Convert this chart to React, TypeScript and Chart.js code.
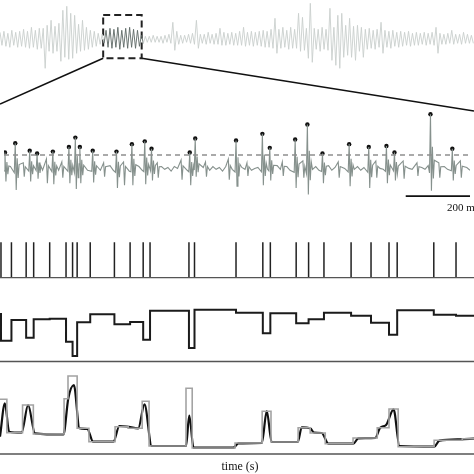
import React, { useEffect, useRef } from "react";
import { Chart, registerables } from "chart.js";

Chart.register(...registerables);

const W = 474;

// ---------- Overview recording (seconds) ----------
const overviewSpan = 18.1;
const overviewBin = 0.15;
const overviewUp = [
  7, 8, 6, 9, 7, 8, 10, 8, 12, 9,
  11, 11, 14, 19, 13, 16, 29, 33, 26, 24,
  15, 19, 12, 9, 8, 6, 5, 9, 11, 10,
  12, 9, 11, 12, 10, 9, 4, 3, 3, 4,
  3, 3, 4, 5, 17, 8, 4, 4, 5, 6,
  19, 5, 5, 7, 5, 6, 11, 7, 6, 7,
  6, 8, 12, 7, 8, 7, 8, 9, 8, 10,
  21, 10, 12, 9, 12, 10, 26, 22, 11, 36,
  11, 10, 12, 10, 31, 12, 24, 26, 14, 21,
  13, 14, 12, 10, 11, 9, 10, 17, 9, 8,
  9, 7, 8, 7, 8, 6, 7, 6, 7, 6,
  7, 12, 6, 5, 6, 9, 5, 5, 7, 5,
  4,
];
const overviewDown = [
  6, 7, 8, 6, 8, 7, 8, 9, 8, 10,
  9, 29, 12, 14, 12, 22, 18, 20, 19, 14,
  12, 11, 10, 8, 7, 5, 4, 8, 9, 8,
  10, 8, 9, 8, 9, 7, 4, 3, 3, 3,
  3, 4, 3, 4, 11, 5, 4, 3, 4, 5,
  9, 4, 5, 4, 5, 5, 6, 6, 5, 6,
  6, 6, 7, 6, 7, 6, 7, 8, 8, 9,
  14, 9, 8, 10, 9, 9, 12, 11, 19, 23,
  10, 12, 10, 11, 21, 26, 29, 18, 16, 18,
  21, 12, 18, 10, 9, 10, 8, 14, 8, 9,
  7, 8, 7, 6, 7, 6, 6, 5, 6, 5,
  6, 14, 5, 5, 4, 5, 4, 5, 4, 4,
  4,
];
const zoomWindow = [3.94, 5.41];
const zoomBoxRange = [-19, 24.3];
const connectorEnds = [-64.7, -71.7];

// ---------- Zoomed trace (ms) ----------
const traceSpan = 1450;
const spikeTimes = [3, 35, 80, 103, 152, 202, 222, 236, 276, 350, 398, 438, 459, 578, 595, 722, 804, 827, 906, 944, 991, 1074, 1135, 1190, 1215, 1327, 1395];
const spikePeaks = [17, 27, 19, 16, 18, 23, 33, 23, 19, 18, 26, 29, 21, 17, 32, 30, 37, 22, 31, 47, 16, 26, 23, 24, 17, 58, 21];
const spikeTroughs = [14, 23, 14, 11, 17, 16, 22, 16, 15, 21, 18, 17, 13, 18, 9, 19, 18, 13, 21, 28, 16, 19, 21, 16, 13, 24, 13];
const threshold = 14.3;
const subTimes = [60, 132, 180, 310, 372, 477, 551, 627, 698, 756, 866, 930, 1040, 1157, 1242, 1285, 1353, 1420];
const subUp = [6, 10, 7, 6, 7, 6, 9, 7, 10, 6, 7, 8, 7, 8, 8, 6, 6, 8];
const subDown = [9, 16, 10, 9, 18, 10, 12, 9, 12, 8, 8, 10, 10, 10, 11, 8, 10, 10];
const noiseStep = 10;
const noise = [
  1, -2, 2, -1, 3, -2, 0, 2, -3, 1,
  -1, 2, -2, 1, 3, -1, 0, -2, 2, -1,
  2, -3, 1, -1, 2, 0, -2, 3, -1, 1,
  -2, 2, -1, 3, -2, 1, 0, -1, 2, -3,
  1, -1, 2, -2, 0, 3, -1, 1, -2, 2,
  -1, 1, -3, 2, 0, -1, 2, -2, 1, -1,
  3, -2, 1, 0, -2, 2, -1, 1, -3, 2,
  0, -1, 2, -2, 1, -1, 3, -2, 0, 1,
  -2, 2, -1, 1, -2, 3, -1, 0, 2, -2,
  1, -1, 2, -3, 1, 0, -1, 2, -2, 1,
  -1, 3, -2, 1, -1, 2, 0, -2, 1, -1,
  2, -2, 1, -1, 3, -2, 1, 0, -1, 2,
  -3, 1, -1, 2, -2, 1, 0, -1, 2, -2,
  1, -1, 3, -2, 0, 1, -2, 2, -1, 1,
  -2, 2, -1, 0, 1, -2, 3, -1, 1, -2,
  1,
];
const scaleBarMs = [1250, 1450];
const scaleBarLevel = -29.7;

// ---------- Interval level (step) ----------
const isiStarts = [0, 3, 35, 80, 103, 152, 202, 222, 236, 276, 350, 398, 438, 459, 578, 595, 722, 804, 827, 906, 944, 991, 1074, 1135, 1190, 1215, 1327, 1395];
const isiLevels = [47.3, 20.6, 41.3, 23.6, 42, 42.6, 19.6, 5.3, 39, 47, 37, 39.3, 21.6, 50.6, 13.3, 51.6, 48.6, 28, 48, 38, 42, 48.6, 45.6, 38.6, 26.6, 51, 46.6, 45.6];

// ---------- Rate (bottom) ----------
const rateStarts = [0, 21, 69, 102, 196, 208, 236, 272, 352, 392, 435, 456, 569, 588, 719, 802, 829, 912, 949, 995, 1080, 1154, 1190, 1218, 1328, 1414];
const rateLevels = [54.7, 21.3, 49, 20, 55.3, 78, 25.7, 12.3, 27.3, 25.7, 52.7, 8, 65.7, 6, 11, 42.7, 12, 26.3, 21, 10.3, 16, 26.3, 45, 7.3, 13.7, 15.3];
const smoothTimes = [0, 15, 28, 66, 86, 107, 194, 209, 226, 243, 267, 285, 347, 365, 388, 423, 442, 464, 569, 579, 592, 714, 729, 801, 816, 831, 911, 923, 949, 961, 984, 1005, 1081, 1096, 1148, 1163, 1181, 1204, 1222, 1328, 1344, 1408, 1450];
const smoothRates = [17.3, 50.7, 22.3, 21.3, 49, 20.7, 19.5, 55.7, 69, 25.7, 25, 12.3, 12.3, 28, 27.5, 25.7, 49.7, 8, 8, 38.3, 6.3, 6.3, 10.7, 11, 43, 12, 12, 26.7, 25.7, 21.3, 21, 10.3, 10.3, 15.7, 16, 26.3, 29, 44.7, 8, 7.3, 13.3, 14.7, 15.3];
const rateFrameTop = 92.5;

type Pt = { x: number; y: number | null };

function baseOptions(xMin: number, xMax: number, yMin: number, yMax: number): any {
  return {
    responsive: false,
    maintainAspectRatio: false,
    animation: false,
    devicePixelRatio: 1,
    events: [],
    layout: { padding: 0 },
    plugins: { legend: { display: false }, tooltip: { enabled: false }, title: { display: false } },
    elements: { point: { radius: 0 }, line: { tension: 0 } },
    scales: {
      x: { type: "linear", min: xMin, max: xMax, display: false },
      y: { type: "linear", min: yMin, max: yMax, display: false },
    },
  };
}

function overviewConfig(): any {
  const pts: Pt[] = [];
  overviewUp.forEach((u, i) => {
    const t = i * overviewBin;
    pts.push({ x: t, y: u });
    pts.push({ x: t + overviewBin / 2, y: -overviewDown[i] });
  });
  const [a, b] = zoomWindow;
  const [lo, hi] = zoomBoxRange;
  const light = "#c9cfcd";
  const dark = "#5d6965";
  return {
    type: "line",
    data: {
      datasets: [
        {
          data: pts,
          borderWidth: 0.9,
          borderColor: light,
          segment: {
            borderColor: (c: any) => (c.p0.parsed.x >= a && c.p0.parsed.x < b ? dark : light),
          },
        },
        {
          data: [{ x: a, y: hi }, { x: b, y: hi }, { x: b, y: lo }, { x: a, y: lo }, { x: a, y: hi }],
          borderColor: "#222",
          borderWidth: 2,
          borderDash: [7, 4],
        },
        { data: [{ x: a, y: lo }, { x: 0, y: connectorEnds[0] }], borderColor: "#111", borderWidth: 1.6 },
        { data: [{ x: b, y: lo }, { x: overviewSpan, y: connectorEnds[1] }], borderColor: "#111", borderWidth: 1.6 },
      ],
    },
    options: baseOptions(0, overviewSpan, -75.7, 39.3),
  };
}

function traceConfig(): any {
  const pts: Pt[] = [];
  const windows: number[][] = [];
  spikeTimes.forEach((t, i) => {
    const P = spikePeaks[i];
    const T = spikeTroughs[i];
    windows.push([t - 6, t + 15]);
    const shape = [[-3, -0.2 * T], [0, P], [3, -T], [6, 0.4 * P], [9, -0.45 * T], [12, 0.15 * P]];
    shape.forEach(([dx, v]) => pts.push({ x: t + dx, y: v }));
  });
  subTimes.forEach((t, i) => {
    windows.push([t - 5, t + 10]);
    [[0, subUp[i]], [3, -subDown[i]], [6, 0.3 * subUp[i]]].forEach(([dx, v]) => pts.push({ x: t + dx, y: v }));
  });
  noise.forEach((v, i) => {
    const x = i * noiseStep;
    if (!windows.some(([p, q]) => x >= p && x <= q)) pts.push({ x, y: v });
  });
  pts.sort((p, q) => p.x - q.x);
  return {
    type: "line",
    data: {
      datasets: [
        {
          data: [{ x: 0, y: threshold }, { x: traceSpan, y: threshold }],
          borderColor: "#8f8f8f",
          borderWidth: 1.4,
          borderDash: [5, 4],
        },
        { data: pts, borderColor: "#86918d", borderWidth: 1.1 },
        {
          data: spikeTimes.map((t, i) => ({ x: t, y: spikePeaks[i] })),
          showLine: false,
          pointRadius: 2.2,
          pointBackgroundColor: "#111",
          pointBorderColor: "#111",
          pointBorderWidth: 0,
        },
        {
          data: [{ x: scaleBarMs[0], y: scaleBarLevel }, { x: scaleBarMs[1], y: scaleBarLevel }],
          borderColor: "#111",
          borderWidth: 1.8,
        },
      ],
    },
    options: baseOptions(0, traceSpan, -51, 69),
  };
}

function rasterConfig(): any {
  const pts: Pt[] = [];
  spikeTimes.forEach((t) => {
    pts.push({ x: t, y: 0 }, { x: t, y: 1 }, { x: t, y: null });
  });
  return {
    type: "line",
    data: {
      datasets: [
        { data: [{ x: 0, y: 0 }, { x: traceSpan, y: 0 }], borderColor: "#555", borderWidth: 1.2 },
        { data: pts, borderColor: "#222", borderWidth: 1.5, spanGaps: false },
      ],
    },
    options: baseOptions(0, traceSpan, -0.121, 1.178),
  };
}

function isiConfig(): any {
  const pts: Pt[] = isiStarts.map((t, i) => ({ x: t, y: isiLevels[i] }));
  pts.push({ x: traceSpan, y: isiLevels[isiLevels.length - 1] });
  return {
    type: "line",
    data: { datasets: [{ data: pts, stepped: "before", borderColor: "#1b1b1b", borderWidth: 2 }] },
    options: baseOptions(0, traceSpan, -0.7, 61.3),
  };
}

function rateConfig(): any {
  const gray: Pt[] = rateStarts.map((t, i) => ({ x: t, y: rateLevels[i] }));
  gray.push({ x: traceSpan, y: rateLevels[rateLevels.length - 1] });
  const smooth: Pt[] = smoothTimes.map((t, i) => ({ x: t, y: smoothRates[i] }));
  return {
    type: "line",
    data: {
      datasets: [
        { data: [{ x: 0, y: rateFrameTop }, { x: traceSpan, y: rateFrameTop }], borderColor: "#555", borderWidth: 1.5 },
        { data: [{ x: 0, y: 0 }, { x: traceSpan, y: 0 }], borderColor: "#555", borderWidth: 1.5 },
        { data: gray, stepped: "before", borderColor: "#a3a3a3", borderWidth: 1.6 },
        { data: smooth, cubicInterpolationMode: "monotone", borderColor: "#111", borderWidth: 2.2 },
      ],
    },
    options: baseOptions(0, traceSpan, -20, 99),
  };
}

function Panel({ top, height, build }: { top: number; height: number; build: () => any }) {
  const ref = useRef<HTMLCanvasElement>(null);
  useEffect(() => {
    const chart = new Chart(ref.current as HTMLCanvasElement, build());
    return () => chart.destroy();
  }, []);
  return (
    <canvas
      ref={ref}
      width={W}
      height={height}
      style={{ position: "absolute", left: 0, top, width: W, height, display: "block" }}
    />
  );
}

const serif = '"Liberation Serif", "Times New Roman", "DejaVu Serif", serif';

export default function App() {
  return (
    <div
      style={{
        position: "fixed",
        left: 0,
        top: 0,
        width: W,
        height: W,
        overflow: "hidden",
        background: "#fff",
      }}
    >
      <Panel top={0} height={115} build={overviewConfig} />
      <Panel top={100} height={120} build={traceConfig} />
      <Panel top={236} height={46} build={rasterConfig} />
      <Panel top={300} height={62} build={isiConfig} />
      <Panel top={355} height={119} build={rateConfig} />
      <div
        style={{
          position: "absolute",
          left: 447,
          top: 201,
          fontFamily: serif,
          fontSize: 11,
          lineHeight: "12px",
          color: "#111",
          whiteSpace: "nowrap",
        }}
      >
        200 ms
      </div>
      <div
        style={{
          position: "absolute",
          left: 0,
          width: 480,
          top: 459,
          textAlign: "center",
          fontFamily: serif,
          fontSize: 12,
          lineHeight: "14px",
          color: "#111",
          whiteSpace: "nowrap",
        }}
      >
        time (s)
      </div>
    </div>
  );
}
